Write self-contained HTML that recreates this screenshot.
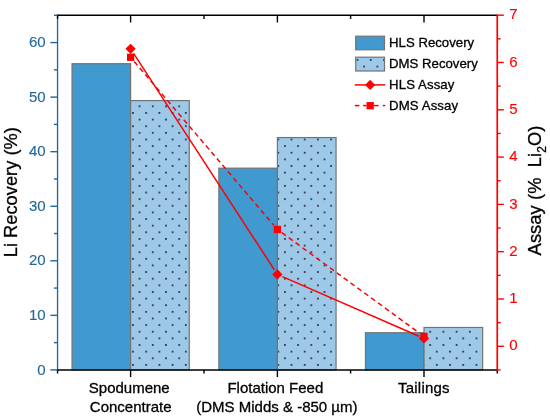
<!DOCTYPE html>
<html><head><meta charset="utf-8"><title>Chart</title>
<style>html,body{margin:0;padding:0;background:#fff;overflow:hidden}svg{display:block}</style></head>
<body>
<svg width="550" height="419" viewBox="0 0 550 419">
<defs><pattern id="dots" patternUnits="userSpaceOnUse" x="-0.05" y="5.95" width="13.21" height="13.26"><rect x="0" y="0" width="1.8" height="1.8" fill="#333a42"/><rect x="6.6" y="6.63" width="1.8" height="1.8" fill="#333a42"/></pattern></defs>
<rect width="550" height="419" fill="#fff"/>
<rect x="72.05" y="63.69" width="58.55" height="306.21" fill="#4099cf" stroke="#737373" stroke-width="1.2"/>
<rect x="130.60" y="100.57" width="58.65" height="269.33" fill="#9dc8e8" stroke="#737373" stroke-width="1.2"/>
<rect x="131.20" y="101.17" width="57.45" height="268.73" fill="url(#dots)"/>
<rect x="218.85" y="168.16" width="58.55" height="201.74" fill="#4099cf" stroke="#737373" stroke-width="1.2"/>
<rect x="277.40" y="137.56" width="58.65" height="232.34" fill="#9dc8e8" stroke="#737373" stroke-width="1.2"/>
<rect x="278.00" y="138.16" width="57.45" height="231.74" fill="url(#dots)"/>
<rect x="365.45" y="332.75" width="58.55" height="37.15" fill="#4099cf" stroke="#737373" stroke-width="1.2"/>
<rect x="424.00" y="327.46" width="58.65" height="42.44" fill="#9dc8e8" stroke="#737373" stroke-width="1.2"/>
<rect x="424.60" y="328.06" width="57.45" height="41.84" fill="url(#dots)"/>
<line x1="134.17" y1="61.48" x2="273.83" y2="225.28" stroke="#ff0000" stroke-width="1.5" stroke-dasharray="5 3.5"/>
<line x1="281.84" y1="232.71" x2="419.56" y2="333.13" stroke="#ff0000" stroke-width="1.5" stroke-dasharray="5 3.5"/>
<line x1="133.60" y1="53.39" x2="274.40" y2="269.79" stroke="#ff0000" stroke-width="1.5"/>
<line x1="282.44" y1="276.60" x2="418.96" y2="336.20" stroke="#ff0000" stroke-width="1.5"/>
<rect x="126.95" y="53.65" width="7.30" height="7.30" fill="#ff0000"/>
<rect x="273.75" y="225.82" width="7.30" height="7.30" fill="#ff0000"/>
<rect x="420.35" y="332.72" width="7.30" height="7.30" fill="#ff0000"/>
<polygon points="125.50,48.78 130.60,43.68 135.70,48.78 130.60,53.88" fill="#ff0000"/>
<polygon points="272.30,274.40 277.40,269.30 282.50,274.40 277.40,279.50" fill="#ff0000"/>
<polygon points="418.90,338.40 424.00,333.30 429.10,338.40 424.00,343.50" fill="#ff0000"/>
<line x1="57.55" y1="14.600000000000001" x2="57.55" y2="370.59999999999997" stroke="#21679b" stroke-width="1.35"/>
<line x1="56.849999999999994" y1="15.3" x2="497.25" y2="15.3" stroke="#000" stroke-width="1.4"/>
<line x1="56.849999999999994" y1="369.9" x2="497.25" y2="369.9" stroke="#000" stroke-width="1.5"/>
<line x1="57.55" y1="15.3" x2="57.55" y2="18.900000000000002" stroke="#000" stroke-width="1.4"/>
<line x1="57.55" y1="369.9" x2="57.55" y2="373.5" stroke="#000" stroke-width="1.4"/>
<line x1="130.6" y1="15.3" x2="130.6" y2="22.4" stroke="#000" stroke-width="1.4"/>
<line x1="130.6" y1="369.9" x2="130.6" y2="377.0" stroke="#000" stroke-width="1.4"/>
<line x1="204.0" y1="15.3" x2="204.0" y2="18.900000000000002" stroke="#000" stroke-width="1.4"/>
<line x1="204.0" y1="369.9" x2="204.0" y2="373.5" stroke="#000" stroke-width="1.4"/>
<line x1="277.4" y1="15.3" x2="277.4" y2="22.4" stroke="#000" stroke-width="1.4"/>
<line x1="277.4" y1="369.9" x2="277.4" y2="377.0" stroke="#000" stroke-width="1.4"/>
<line x1="350.6" y1="15.3" x2="350.6" y2="18.900000000000002" stroke="#000" stroke-width="1.4"/>
<line x1="350.6" y1="369.9" x2="350.6" y2="373.5" stroke="#000" stroke-width="1.4"/>
<line x1="424.0" y1="15.3" x2="424.0" y2="22.4" stroke="#000" stroke-width="1.4"/>
<line x1="424.0" y1="369.9" x2="424.0" y2="377.0" stroke="#000" stroke-width="1.4"/>
<line x1="497.25" y1="369.9" x2="497.25" y2="373.5" stroke="#000" stroke-width="1.4"/>
<line x1="497.25" y1="14.600000000000001" x2="497.25" y2="370.59999999999997" stroke="#ff0000" stroke-width="1.7"/>
<line x1="50.349999999999994" y1="369.90" x2="57.55" y2="369.90" stroke="#21679b" stroke-width="1.4"/>
<text x="37.20" y="374.60" font-family="Liberation Sans, Arial, sans-serif" font-size="15" fill="#21679b" stroke="#21679b" stroke-width="0.12" xml:space="preserve">0</text>
<line x1="53.949999999999996" y1="342.62" x2="57.55" y2="342.62" stroke="#21679b" stroke-width="1.4"/>
<line x1="50.349999999999994" y1="315.35" x2="57.55" y2="315.35" stroke="#21679b" stroke-width="1.4"/>
<text x="28.90" y="320.05" font-family="Liberation Sans, Arial, sans-serif" font-size="15" fill="#21679b" stroke="#21679b" stroke-width="0.12" xml:space="preserve">10</text>
<line x1="53.949999999999996" y1="288.07" x2="57.55" y2="288.07" stroke="#21679b" stroke-width="1.4"/>
<line x1="50.349999999999994" y1="260.79" x2="57.55" y2="260.79" stroke="#21679b" stroke-width="1.4"/>
<text x="28.90" y="265.49" font-family="Liberation Sans, Arial, sans-serif" font-size="15" fill="#21679b" stroke="#21679b" stroke-width="0.12" xml:space="preserve">20</text>
<line x1="53.949999999999996" y1="233.52" x2="57.55" y2="233.52" stroke="#21679b" stroke-width="1.4"/>
<line x1="50.349999999999994" y1="206.24" x2="57.55" y2="206.24" stroke="#21679b" stroke-width="1.4"/>
<text x="28.90" y="210.94" font-family="Liberation Sans, Arial, sans-serif" font-size="15" fill="#21679b" stroke="#21679b" stroke-width="0.12" xml:space="preserve">30</text>
<line x1="53.949999999999996" y1="178.96" x2="57.55" y2="178.96" stroke="#21679b" stroke-width="1.4"/>
<line x1="50.349999999999994" y1="151.68" x2="57.55" y2="151.68" stroke="#21679b" stroke-width="1.4"/>
<text x="28.90" y="156.38" font-family="Liberation Sans, Arial, sans-serif" font-size="15" fill="#21679b" stroke="#21679b" stroke-width="0.12" xml:space="preserve">40</text>
<line x1="53.949999999999996" y1="124.41" x2="57.55" y2="124.41" stroke="#21679b" stroke-width="1.4"/>
<line x1="50.349999999999994" y1="97.13" x2="57.55" y2="97.13" stroke="#21679b" stroke-width="1.4"/>
<text x="28.90" y="101.83" font-family="Liberation Sans, Arial, sans-serif" font-size="15" fill="#21679b" stroke="#21679b" stroke-width="0.12" xml:space="preserve">50</text>
<line x1="53.949999999999996" y1="69.85" x2="57.55" y2="69.85" stroke="#21679b" stroke-width="1.4"/>
<line x1="50.349999999999994" y1="42.58" x2="57.55" y2="42.58" stroke="#21679b" stroke-width="1.4"/>
<text x="28.90" y="47.28" font-family="Liberation Sans, Arial, sans-serif" font-size="15" fill="#21679b" stroke="#21679b" stroke-width="0.12" xml:space="preserve">60</text>
<line x1="53.949999999999996" y1="15.30" x2="57.55" y2="15.30" stroke="#21679b" stroke-width="1.4"/>
<line x1="497.25" y1="369.95" x2="500.65" y2="369.95" stroke="#ff0000" stroke-width="1.4"/>
<line x1="497.25" y1="346.30" x2="503.85" y2="346.30" stroke="#ff0000" stroke-width="1.4"/>
<text x="509.20" y="350.45" font-family="Liberation Sans, Arial, sans-serif" font-size="15" fill="#ff0000" stroke="#ff0000" stroke-width="0.12" xml:space="preserve">0</text>
<line x1="497.25" y1="322.65" x2="500.65" y2="322.65" stroke="#ff0000" stroke-width="1.4"/>
<line x1="497.25" y1="299.00" x2="503.85" y2="299.00" stroke="#ff0000" stroke-width="1.4"/>
<text x="509.20" y="303.15" font-family="Liberation Sans, Arial, sans-serif" font-size="15" fill="#ff0000" stroke="#ff0000" stroke-width="0.12" xml:space="preserve">1</text>
<line x1="497.25" y1="275.35" x2="500.65" y2="275.35" stroke="#ff0000" stroke-width="1.4"/>
<line x1="497.25" y1="251.70" x2="503.85" y2="251.70" stroke="#ff0000" stroke-width="1.4"/>
<text x="509.20" y="255.85" font-family="Liberation Sans, Arial, sans-serif" font-size="15" fill="#ff0000" stroke="#ff0000" stroke-width="0.12" xml:space="preserve">2</text>
<line x1="497.25" y1="228.05" x2="500.65" y2="228.05" stroke="#ff0000" stroke-width="1.4"/>
<line x1="497.25" y1="204.40" x2="503.85" y2="204.40" stroke="#ff0000" stroke-width="1.4"/>
<text x="509.20" y="208.55" font-family="Liberation Sans, Arial, sans-serif" font-size="15" fill="#ff0000" stroke="#ff0000" stroke-width="0.12" xml:space="preserve">3</text>
<line x1="497.25" y1="180.75" x2="500.65" y2="180.75" stroke="#ff0000" stroke-width="1.4"/>
<line x1="497.25" y1="157.10" x2="503.85" y2="157.10" stroke="#ff0000" stroke-width="1.4"/>
<text x="509.20" y="161.25" font-family="Liberation Sans, Arial, sans-serif" font-size="15" fill="#ff0000" stroke="#ff0000" stroke-width="0.12" xml:space="preserve">4</text>
<line x1="497.25" y1="133.45" x2="500.65" y2="133.45" stroke="#ff0000" stroke-width="1.4"/>
<line x1="497.25" y1="109.80" x2="503.85" y2="109.80" stroke="#ff0000" stroke-width="1.4"/>
<text x="509.20" y="113.95" font-family="Liberation Sans, Arial, sans-serif" font-size="15" fill="#ff0000" stroke="#ff0000" stroke-width="0.12" xml:space="preserve">5</text>
<line x1="497.25" y1="86.15" x2="500.65" y2="86.15" stroke="#ff0000" stroke-width="1.4"/>
<line x1="497.25" y1="62.50" x2="503.85" y2="62.50" stroke="#ff0000" stroke-width="1.4"/>
<text x="509.20" y="66.65" font-family="Liberation Sans, Arial, sans-serif" font-size="15" fill="#ff0000" stroke="#ff0000" stroke-width="0.12" xml:space="preserve">6</text>
<line x1="497.25" y1="38.85" x2="500.65" y2="38.85" stroke="#ff0000" stroke-width="1.4"/>
<line x1="497.25" y1="15.20" x2="503.85" y2="15.20" stroke="#ff0000" stroke-width="1.4"/>
<text x="509.20" y="19.35" font-family="Liberation Sans, Arial, sans-serif" font-size="15" fill="#ff0000" stroke="#ff0000" stroke-width="0.12" xml:space="preserve">7</text>
<text transform="translate(16.70,257.20) rotate(-90)" font-family="Liberation Sans, Arial, sans-serif" font-size="18.3" fill="#000" stroke="#000" stroke-width="0.3" xml:space="preserve">Li Recovery (%)</text>
<text transform="translate(541.00,255.40) rotate(-90)" font-family="Liberation Sans, Arial, sans-serif" font-size="18.3" fill="#000" stroke="#000" stroke-width="0.3" letter-spacing="0.090" xml:space="preserve">Assay (%  Li<tspan font-size="11.9" dy="5.2">2</tspan><tspan dy="-5.2">O)</tspan></text>
<text x="88.80" y="392.90" font-family="Liberation Sans, Arial, sans-serif" font-size="15" fill="#000" stroke="#000" stroke-width="0.3" xml:space="preserve">Spodumene</text>
<text x="89.80" y="411.60" font-family="Liberation Sans, Arial, sans-serif" font-size="15" fill="#000" stroke="#000" stroke-width="0.3" xml:space="preserve">Concentrate</text>
<text x="227.40" y="392.90" font-family="Liberation Sans, Arial, sans-serif" font-size="15" fill="#000" stroke="#000" stroke-width="0.3" xml:space="preserve">Flotation Feed</text>
<text x="196.30" y="411.60" font-family="Liberation Sans, Arial, sans-serif" font-size="15" fill="#000" stroke="#000" stroke-width="0.3" xml:space="preserve">(DMS Midds &amp; -850 µm)</text>
<text x="398.10" y="392.90" font-family="Liberation Sans, Arial, sans-serif" font-size="15" fill="#000" stroke="#000" stroke-width="0.3" letter-spacing="0.200" xml:space="preserve">Tailings</text>
<rect x="355.7" y="36.2" width="28.8" height="13.6" fill="#4099cf" stroke="#737373" stroke-width="1.2"/>
<rect x="355.7" y="57.2" width="28.8" height="13.8" fill="#9dc8e8" stroke="#737373" stroke-width="1.2"/>
<rect x="356.3" y="57.8" width="27.6" height="12.6" fill="url(#dots)"/>
<line x1="354.8" y1="84.9" x2="385.3" y2="84.9" stroke="#ff0000" stroke-width="1.5"/>
<polygon points="365.00,84.90 370.10,79.80 375.20,84.90 370.10,90.00" fill="#ff0000"/>
<line x1="354.8" y1="105.6" x2="359.5" y2="105.6" stroke="#ff0000" stroke-width="1.5"/>
<line x1="363.1" y1="105.6" x2="366.6" y2="105.6" stroke="#ff0000" stroke-width="1.5"/>
<line x1="373.8" y1="105.6" x2="378.6" y2="105.6" stroke="#ff0000" stroke-width="1.5"/>
<line x1="382.8" y1="105.6" x2="385.3" y2="105.6" stroke="#ff0000" stroke-width="1.5"/>
<rect x="366.55" y="102.05" width="7.30" height="7.30" fill="#ff0000"/>
<text x="389.10" y="47.00" font-family="Liberation Sans, Arial, sans-serif" font-size="13.2" fill="#000" stroke="#000" stroke-width="0.3" xml:space="preserve">HLS Recovery</text>
<text x="389.10" y="68.10" font-family="Liberation Sans, Arial, sans-serif" font-size="13.2" fill="#000" stroke="#000" stroke-width="0.3" xml:space="preserve">DMS Recovery</text>
<text x="389.10" y="89.00" font-family="Liberation Sans, Arial, sans-serif" font-size="13.2" fill="#000" stroke="#000" stroke-width="0.3" letter-spacing="0.100" xml:space="preserve">HLS Assay</text>
<text x="389.10" y="109.80" font-family="Liberation Sans, Arial, sans-serif" font-size="13.2" fill="#000" stroke="#000" stroke-width="0.3" letter-spacing="0.100" xml:space="preserve">DMS Assay</text>
</svg>
</body></html>
